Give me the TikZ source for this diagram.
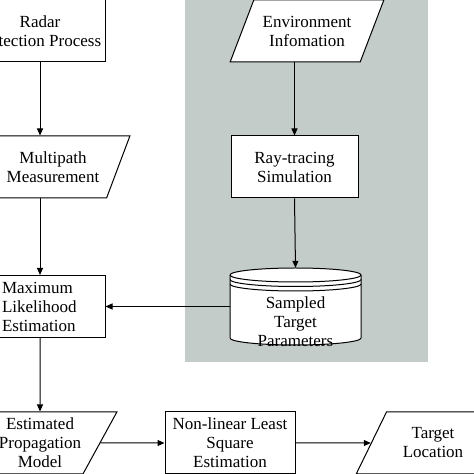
\documentclass[tikz,border=0pt]{standalone}
\usepackage{fontspec}
\setmainfont{Liberation Serif}
\usepackage{tikz}
\usetikzlibrary{shapes.geometric,positioning,arrows.meta,calc}

\definecolor{panelgray}{RGB}{196,204,202}

\begin{document}
\begin{tikzpicture}[
    x=1pt, y=1pt,
    every node/.style={font=\fontsize{17}{19}\selectfont},
    process/.style={rectangle, draw, line width=1pt, fill=white, minimum width=130pt, minimum height=62pt, align=center, inner sep=2pt},
    data_io/.style={trapezium, draw, line width=1pt, fill=white, trapezium left angle=57, trapezium right angle=123, trapezium stretches, minimum width=154pt, minimum height=62pt, align=center, inner sep=0pt},
    flow/.style={-{Triangle[length=7pt,width=6pt]}, line width=1pt}
]
\useasboundingbox (0,0) rectangle (474,474);
\clip (0,0) rectangle (474,474);

% simulation panel
\fill[panelgray] (185,112) rectangle (428,480);

% measurement side
\node[process] (radar) at (40,443) {Radar\\Detection Process};
\node[data_io] (multi) at (53,307) {Multipath\\Measurement};
\node[process, text width=76pt, align=left] (mle) at (40,167.5) {Maximum\\Likelihood\\Estimation};
\node[data_io] (est) at (40,31) {Estimated\\Propagation\\Model};
\node[process] (nlls) at (230,31) {Non-linear Least\\Square\\Estimation};
\node[data_io] (target) at (433,31) {Target\\Location};

% simulation side
\node[data_io] (env) at (307,443) {Environment\\Infomation};
\node[process, minimum width=127pt] (ray) at (294.5,307) {Ray-tracing\\Simulation};
\node[minimum width=131pt, minimum height=77pt, inner sep=0pt] (db) at (295.5,167.5) {};
\draw[line width=1pt, fill=white] (230,199) -- (230,136)
    arc[start angle=180, end angle=360, x radius=65.5, y radius=7] -- (361,199)
    arc[start angle=0, end angle=180, x radius=65.5, y radius=7] -- cycle;
\foreach \dy in {0,4.5,9}
    \draw[line width=1pt] (230,199-\dy) arc[start angle=180, end angle=360, x radius=65.5, y radius=7];
\node[align=center] (dbtext) at (295.5,152) {Sampled\\Target\\Parameters};

% connections
\draw[flow] (radar.south) -- (radar.south |- multi.north);
\draw[flow] (mle.north |- multi.south) -- (mle.north);
\draw[flow] (mle.south) -- (est.north);
\draw[flow] (ray.north |- env.south) -- (ray.north);
\draw[flow] (ray.south) -- (db.north);
\draw[flow] (db.west) -- (mle.east);
\draw[flow] (est.east) -- (nlls.west);
\draw[flow] (nlls.east) -- (target.west);

\end{tikzpicture}
\end{document}
